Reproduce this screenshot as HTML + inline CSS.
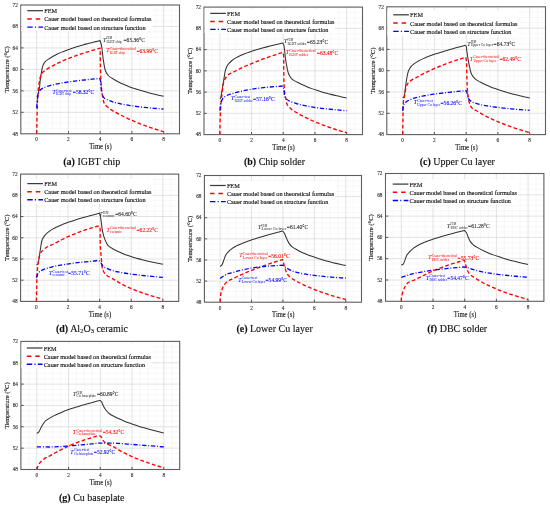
<!DOCTYPE html><html><head><meta charset="utf-8"><style>html,body{margin:0;padding:0;background:#fff;width:550px;height:506px;overflow:hidden}svg{display:block}text{font-family:"Liberation Serif", "Times New Roman", serif}</style></head><body>
<svg width="550" height="506" viewBox="0 0 550 506">
<rect width="550" height="506" fill="#fff"/>
<g>
<path d="M28.73 5V133.8M44.6 5V133.8M52.54 5V133.8M60.47 5V133.8M76.34 5V133.8M84.28 5V133.8M92.21 5V133.8M108.08 5V133.8M116.02 5V133.8M123.95 5V133.8M139.82 5V133.8M147.76 5V133.8M155.69 5V133.8M171.56 5V133.8M20.8 128.43H179.5M20.8 123.07H179.5M20.8 117.7H179.5M20.8 106.97H179.5M20.8 101.6H179.5M20.8 96.23H179.5M20.8 85.5H179.5M20.8 80.13H179.5M20.8 74.77H179.5M20.8 64.03H179.5M20.8 58.67H179.5M20.8 53.3H179.5M20.8 42.57H179.5M20.8 37.2H179.5M20.8 31.83H179.5M20.8 21.1H179.5M20.8 15.73H179.5M20.8 10.37H179.5" stroke="#f3f3f3" stroke-width="0.55" fill="none"/>
<path d="M36.67 5V133.8M68.41 5V133.8M100.15 5V133.8M131.89 5V133.8M163.63 5V133.8M20.8 112.33H179.5M20.8 90.87H179.5M20.8 69.4H179.5M20.8 47.93H179.5M20.8 26.47H179.5" stroke="#d8d8d8" stroke-width="0.75" fill="none"/>
<path d="M36.67 133.8v-2.6M68.41 133.8v-2.6M100.15 133.8v-2.6M131.89 133.8v-2.6M163.63 133.8v-2.6M20.8 112.33h2.8M20.8 90.87h2.8M20.8 69.4h2.8M20.8 47.93h2.8M20.8 26.47h2.8" stroke="#444" stroke-width="0.9" fill="none"/>
<text transform="translate(17.8 135.55) scale(0.85 1)" text-anchor="end" font-size="6.2" fill="#222" stroke="#222" stroke-width="0.1">48</text>
<text transform="translate(17.8 114.08) scale(0.85 1)" text-anchor="end" font-size="6.2" fill="#222" stroke="#222" stroke-width="0.1">52</text>
<text transform="translate(17.8 92.62) scale(0.85 1)" text-anchor="end" font-size="6.2" fill="#222" stroke="#222" stroke-width="0.1">56</text>
<text transform="translate(17.8 71.15) scale(0.85 1)" text-anchor="end" font-size="6.2" fill="#222" stroke="#222" stroke-width="0.1">60</text>
<text transform="translate(17.8 49.68) scale(0.85 1)" text-anchor="end" font-size="6.2" fill="#222" stroke="#222" stroke-width="0.1">64</text>
<text transform="translate(17.8 28.22) scale(0.85 1)" text-anchor="end" font-size="6.2" fill="#222" stroke="#222" stroke-width="0.1">68</text>
<text transform="translate(17.8 6.75) scale(0.85 1)" text-anchor="end" font-size="6.2" fill="#222" stroke="#222" stroke-width="0.1">72</text>
<text transform="translate(36.67 141.1) scale(0.85 1)" text-anchor="middle" font-size="6.2" fill="#222" stroke="#222" stroke-width="0.1">0</text>
<text transform="translate(68.41 141.1) scale(0.85 1)" text-anchor="middle" font-size="6.2" fill="#222" stroke="#222" stroke-width="0.1">2</text>
<text transform="translate(100.15 141.1) scale(0.85 1)" text-anchor="middle" font-size="6.2" fill="#222" stroke="#222" stroke-width="0.1">4</text>
<text transform="translate(131.89 141.1) scale(0.85 1)" text-anchor="middle" font-size="6.2" fill="#222" stroke="#222" stroke-width="0.1">6</text>
<text transform="translate(163.63 141.1) scale(0.85 1)" text-anchor="middle" font-size="6.2" fill="#222" stroke="#222" stroke-width="0.1">8</text>
<text transform="translate(100.45 149.05) scale(0.85 1)" text-anchor="middle" font-size="7.8" fill="#1a1a1a" stroke="#1a1a1a" stroke-width="0.14">Time (s)</text>
<text transform="translate(8.7 69.4) rotate(-90) scale(0.93 1)" text-anchor="middle" font-size="7.1" fill="#1a1a1a" stroke="#1a1a1a" stroke-width="0.16">Temperature (°C)</text>
<path d="M36.67 96.77 C36.83 96.59 36.97 96.54 37.15 96.23 C37.7 95.24 38.69 91.8 39.21 89.26 C39.81 86.32 39.9 82.67 40.32 79.6 C40.7 76.79 41.15 73.95 41.59 71.55 C41.95 69.57 42.14 67.78 42.7 66.18 C43.19 64.77 43.68 63.52 44.6 62.37 C45.66 61.06 47.42 59.95 48.88 58.91 C50.27 57.92 51.71 57.08 53.15 56.26 C54.56 55.46 55.99 54.74 57.42 54.05 C58.84 53.37 60.27 52.74 61.7 52.13 C63.11 51.53 64.54 50.97 65.97 50.43 C67.39 49.89 68.81 49.38 70.24 48.88 C71.66 48.39 73.09 47.92 74.51 47.46 C75.94 47.01 77.36 46.57 78.79 46.14 C80.21 45.72 81.63 45.31 83.06 44.91 C84.48 44.51 85.91 44.13 87.33 43.75 C88.75 43.38 90.18 43.02 91.6 42.66 C93.03 42.3 94.45 41.96 95.88 41.62 C97.3 41.28 98.73 40.96 100.15 40.63 C100.63 42.35 101.19 43.81 101.58 45.79 C102.09 48.38 102.31 51.97 102.69 54.91 C103.05 57.68 103.33 60.29 103.8 62.96 C104.28 65.65 104.62 68.75 105.55 71.01 C106.31 72.87 107.26 74.39 108.56 75.74 C109.91 77.14 111.87 78.15 113.57 79.2 C115.21 80.23 116.89 81.13 118.57 82 C120.23 82.84 121.9 83.61 123.58 84.35 C125.24 85.08 126.91 85.75 128.59 86.4 C130.25 87.04 131.92 87.64 133.59 88.21 C135.26 88.79 136.93 89.33 138.6 89.85 C140.26 90.37 141.93 90.87 143.6 91.35 C145.27 91.82 146.94 92.28 148.61 92.72 C150.28 93.16 151.95 93.59 153.62 94 C155.28 94.41 156.95 94.8 158.62 95.19 C160.29 95.57 161.96 95.93 163.63 96.31" stroke="#333" stroke-width="1.05" fill="none" stroke-linejoin="round"/>
<path d="M36.67 133.8 C36.88 124.68 37.04 113.94 37.3 106.43 C37.49 101.17 37.58 97.17 37.94 93.01 C38.25 89.38 38.8 85.49 39.21 82.82 C39.48 81.08 39.6 80.02 40 78.52 C40.46 76.82 40.83 74.66 41.91 73.16 C43.02 71.6 45.11 70.5 46.67 69.4 C48.06 68.41 49.4 67.6 50.78 66.79 C52.14 65.99 53.52 65.27 54.9 64.56 C56.26 63.86 57.63 63.2 59.01 62.57 C60.38 61.93 61.75 61.33 63.12 60.74 C64.49 60.15 65.86 59.59 67.24 59.04 C68.61 58.49 69.98 57.96 71.35 57.44 C72.72 56.92 74.09 56.41 75.47 55.92 C76.84 55.43 78.21 54.95 79.58 54.48 C80.95 54.01 82.32 53.55 83.69 53.1 C85.06 52.65 86.44 52.21 87.81 51.77 C89.18 51.34 90.55 50.92 91.92 50.5 C93.29 50.08 94.66 49.67 96.04 49.27 C97.41 48.86 98.78 48.47 100.15 48.08 C100.26 55.19 100.27 63.11 100.47 69.4 C100.62 74.39 100.86 78.91 101.1 82.82 C101.29 85.84 101.44 88.4 101.74 90.87 C101.99 92.99 102.25 94.71 102.69 96.77 C103.18 99.07 103.3 101.91 104.59 104.02 C105.97 106.25 108.9 108.18 110.94 109.66 C112.59 110.85 114.13 111.55 115.73 112.45 C117.32 113.35 118.92 114.22 120.52 115.06 C122.11 115.89 123.71 116.69 125.31 117.46 C126.9 118.22 128.5 118.96 130.1 119.68 C131.69 120.39 133.29 121.07 134.89 121.73 C136.48 122.39 138.08 123.03 139.68 123.65 C141.27 124.27 142.87 124.87 144.47 125.45 C146.06 126.03 147.66 126.6 149.26 127.15 C150.85 127.69 152.45 128.23 154.05 128.75 C155.64 129.27 157.24 129.77 158.84 130.27 C160.44 130.76 162.03 131.24 163.63 131.72" stroke="#ff0000" stroke-width="1.35" fill="none" stroke-dasharray="3.8 2.3" stroke-linejoin="round"/>
<path d="M36.67 108.04 C36.99 104.64 37.07 100.9 37.62 97.84 C38.09 95.28 38.46 92.54 39.53 90.87 C40.34 89.6 41.35 88.98 42.7 88.18 C44.54 87.11 47.81 86.13 49.84 85.52 C51.3 85.08 52.39 84.91 53.66 84.63 C54.94 84.35 56.21 84.09 57.48 83.85 C58.76 83.6 60.03 83.36 61.31 83.14 C62.58 82.92 63.85 82.7 65.13 82.5 C66.4 82.3 67.67 82.1 68.95 81.92 C70.22 81.73 71.49 81.55 72.77 81.38 C74.04 81.21 75.32 81.04 76.59 80.88 C77.86 80.72 79.14 80.57 80.41 80.42 C81.68 80.27 82.96 80.12 84.23 79.98 C85.5 79.84 86.78 79.7 88.05 79.57 C89.33 79.44 90.6 79.31 91.87 79.19 C93.15 79.06 94.42 78.94 95.69 78.82 C96.97 78.7 98.24 78.59 99.52 78.47 C99.83 79.21 100.23 79.77 100.47 80.67 C100.8 81.95 100.74 83.71 100.94 85.5 C101.19 87.73 101.32 90.85 101.9 93.01 C102.36 94.76 102.62 96.31 103.8 97.58 C105.3 99.18 108.77 100.27 110.94 101.15 C112.67 101.86 114.13 102.23 115.73 102.69 C117.32 103.13 118.92 103.5 120.52 103.85 C122.11 104.19 123.71 104.49 125.31 104.78 C126.91 105.07 128.5 105.32 130.1 105.57 C131.7 105.81 133.29 106.03 134.89 106.24 C136.49 106.45 138.08 106.65 139.68 106.84 C141.28 107.02 142.87 107.2 144.47 107.37 C146.07 107.53 147.66 107.69 149.26 107.84 C150.86 108 152.45 108.14 154.05 108.28 C155.65 108.42 157.24 108.55 158.84 108.68 C160.44 108.81 162.03 108.93 163.63 109.05" stroke="#0000ff" stroke-width="1.3" fill="none" stroke-dasharray="4.3 1.8 0.9 1.8" stroke-linejoin="round"/>
<rect x="20.8" y="5" width="158.7" height="128.8" fill="none" stroke="#5e5e5e" stroke-width="1.1"/>
<rect x="21.4" y="6.1" width="131" height="25" fill="#fff"/>
<path d="M27.3 10.7h15.7" stroke="#3a3a3a" stroke-width="1.25"/>
<path d="M27.3 18.9h13.5" stroke="#ff0000" stroke-width="1.5" stroke-dasharray="4.5 3.9"/>
<path d="M27.3 27.1h15.7" stroke="#0000ff" stroke-width="1.4" stroke-dasharray="5.4 2.2 1.1 2.3"/>
<text transform="translate(44.2 13.2) scale(0.885 1)" font-size="7.07" fill="#1a1a1a" stroke="#1a1a1a" stroke-width="0.18">FEM</text>
<text transform="translate(44.2 21.4) scale(0.885 1)" font-size="7.07" fill="#1a1a1a" stroke="#1a1a1a" stroke-width="0.18">Cauer model based on theoretical formulas</text>
<text transform="translate(44.2 29.6) scale(0.885 1)" font-size="7.07" fill="#1a1a1a" stroke="#1a1a1a" stroke-width="0.18">Cauer model based on structure function</text>
<text x="102.7" y="41.7" font-size="6.6" fill="#222" font-style="italic">T</text>
<text x="106.5" y="39.3" font-size="3.8" fill="#222" textLength="5.6" lengthAdjust="spacingAndGlyphs">FEM</text>
<text x="106.5" y="42.9" font-size="3.8" fill="#222" textLength="15" lengthAdjust="spacingAndGlyphs">IGBT chip</text>
<text transform="translate(123.5 42.1) scale(0.88 1)" font-size="6.3" fill="#222" stroke="#222" stroke-width="0.08">=65.36°C</text>
<text x="105.9" y="51.8" font-size="6.6" fill="#ff0000" font-style="italic">T</text>
<text x="109.7" y="49.7" font-size="3.8" fill="#ff0000" textLength="26.3" lengthAdjust="spacingAndGlyphs">Cauer-theoretical</text>
<text x="109.7" y="53.8" font-size="3.8" fill="#ff0000" textLength="15" lengthAdjust="spacingAndGlyphs">IGBT chip</text>
<text transform="translate(136.4 52.5) scale(0.88 1)" font-size="6.3" fill="#ff0000" stroke="#ff0000" stroke-width="0.08">=63.99°C</text>
<text x="52.3" y="94.2" font-size="6.6" fill="#0000ff" font-style="italic">T</text>
<text x="56.1" y="91.7" font-size="3.8" fill="#0000ff" textLength="15.4" lengthAdjust="spacingAndGlyphs">Cauer-test</text>
<text x="56.1" y="95.3" font-size="3.8" fill="#0000ff" textLength="15" lengthAdjust="spacingAndGlyphs">IGBT chip</text>
<text transform="translate(72.8 94.3) scale(0.88 1)" font-size="6.3" fill="#0000ff" stroke="#0000ff" stroke-width="0.08">=58.32°C</text>
<text x="91.75" y="164.9" text-anchor="middle" font-size="10" fill="#111" stroke="#111" stroke-width="0.12"><tspan font-weight="bold">(a)</tspan> IGBT chip</text>
</g>
<g>
<path d="M211.93 7.1V134.6M227.78 7.1V134.6M235.7 7.1V134.6M243.62 7.1V134.6M259.48 7.1V134.6M267.4 7.1V134.6M275.32 7.1V134.6M291.18 7.1V134.6M299.1 7.1V134.6M307.02 7.1V134.6M322.88 7.1V134.6M330.8 7.1V134.6M338.73 7.1V134.6M354.57 7.1V134.6M204 129.29H362.5M204 123.97H362.5M204 118.66H362.5M204 108.04H362.5M204 102.72H362.5M204 97.41H362.5M204 86.79H362.5M204 81.47H362.5M204 76.16H362.5M204 65.54H362.5M204 60.23H362.5M204 54.91H362.5M204 44.29H362.5M204 38.98H362.5M204 33.66H362.5M204 23.04H362.5M204 17.73H362.5M204 12.41H362.5" stroke="#f3f3f3" stroke-width="0.55" fill="none"/>
<path d="M219.85 7.1V134.6M251.55 7.1V134.6M283.25 7.1V134.6M314.95 7.1V134.6M346.65 7.1V134.6M204 113.35H362.5M204 92.1H362.5M204 70.85H362.5M204 49.6H362.5M204 28.35H362.5" stroke="#d8d8d8" stroke-width="0.75" fill="none"/>
<path d="M219.85 134.6v-2.6M251.55 134.6v-2.6M283.25 134.6v-2.6M314.95 134.6v-2.6M346.65 134.6v-2.6M204 113.35h2.8M204 92.1h2.8M204 70.85h2.8M204 49.6h2.8M204 28.35h2.8" stroke="#444" stroke-width="0.9" fill="none"/>
<text transform="translate(201 136.35) scale(0.85 1)" text-anchor="end" font-size="6.2" fill="#222" stroke="#222" stroke-width="0.1">48</text>
<text transform="translate(201 115.1) scale(0.85 1)" text-anchor="end" font-size="6.2" fill="#222" stroke="#222" stroke-width="0.1">52</text>
<text transform="translate(201 93.85) scale(0.85 1)" text-anchor="end" font-size="6.2" fill="#222" stroke="#222" stroke-width="0.1">56</text>
<text transform="translate(201 72.6) scale(0.85 1)" text-anchor="end" font-size="6.2" fill="#222" stroke="#222" stroke-width="0.1">60</text>
<text transform="translate(201 51.35) scale(0.85 1)" text-anchor="end" font-size="6.2" fill="#222" stroke="#222" stroke-width="0.1">64</text>
<text transform="translate(201 30.1) scale(0.85 1)" text-anchor="end" font-size="6.2" fill="#222" stroke="#222" stroke-width="0.1">68</text>
<text transform="translate(201 8.85) scale(0.85 1)" text-anchor="end" font-size="6.2" fill="#222" stroke="#222" stroke-width="0.1">72</text>
<text transform="translate(219.85 141.9) scale(0.85 1)" text-anchor="middle" font-size="6.2" fill="#222" stroke="#222" stroke-width="0.1">0</text>
<text transform="translate(251.55 141.9) scale(0.85 1)" text-anchor="middle" font-size="6.2" fill="#222" stroke="#222" stroke-width="0.1">2</text>
<text transform="translate(283.25 141.9) scale(0.85 1)" text-anchor="middle" font-size="6.2" fill="#222" stroke="#222" stroke-width="0.1">4</text>
<text transform="translate(314.95 141.9) scale(0.85 1)" text-anchor="middle" font-size="6.2" fill="#222" stroke="#222" stroke-width="0.1">6</text>
<text transform="translate(346.65 141.9) scale(0.85 1)" text-anchor="middle" font-size="6.2" fill="#222" stroke="#222" stroke-width="0.1">8</text>
<text transform="translate(283.55 149.85) scale(0.85 1)" text-anchor="middle" font-size="7.8" fill="#1a1a1a" stroke="#1a1a1a" stroke-width="0.14">Time (s)</text>
<text transform="translate(191.9 70.85) rotate(-90) scale(0.93 1)" text-anchor="middle" font-size="7.1" fill="#1a1a1a" stroke="#1a1a1a" stroke-width="0.16">Temperature (°C)</text>
<path d="M219.85 98.74 C220.01 98.65 220.16 98.7 220.33 98.48 C221.15 97.34 222.32 88.64 223.02 84.66 C223.55 81.65 223.87 79.2 224.29 76.69 C224.66 74.45 224.8 72.33 225.4 70.32 C225.98 68.38 226.68 66.46 227.78 64.82 C228.88 63.17 230.53 61.7 232.01 60.48 C233.36 59.36 234.8 58.51 236.24 57.67 C237.62 56.86 239.05 56.19 240.47 55.53 C241.87 54.88 243.28 54.31 244.7 53.75 C246.1 53.19 247.51 52.69 248.93 52.19 C250.33 51.7 251.75 51.23 253.16 50.78 C254.57 50.33 255.98 49.91 257.39 49.49 C258.8 49.07 260.21 48.67 261.62 48.27 C263.03 47.88 264.44 47.5 265.85 47.13 C267.26 46.76 268.67 46.4 270.08 46.04 C271.49 45.69 272.9 45.34 274.31 45 C275.72 44.66 277.13 44.32 278.54 43.99 C279.95 43.67 281.36 43.35 282.77 43.03 C283.09 43.62 283.47 44.05 283.73 44.82 C284.13 46.01 284.27 47.75 284.52 49.6 C284.86 52.13 285.05 55.63 285.47 58.63 C285.89 61.65 286.47 64.92 287.05 67.66 C287.55 69.98 287.79 72.1 288.64 74.04 C289.45 75.9 290.56 77.75 291.97 79.09 C293.34 80.41 295.26 81.15 296.94 82.07 C298.58 82.97 300.24 83.79 301.91 84.57 C303.56 85.33 305.22 86.04 306.88 86.72 C308.53 87.39 310.19 88.02 311.85 88.62 C313.5 89.22 315.16 89.78 316.82 90.33 C318.48 90.87 320.13 91.38 321.79 91.88 C323.45 92.37 325.11 92.84 326.77 93.3 C328.42 93.76 330.08 94.2 331.74 94.62 C333.39 95.05 335.05 95.46 336.71 95.85 C338.36 96.25 340.02 96.64 341.68 97.01 C343.33 97.38 344.99 97.73 346.65 98.1" stroke="#333" stroke-width="1.05" fill="none" stroke-linejoin="round"/>
<path d="M219.85 134.6 C220.01 127.87 220.07 120.3 220.33 114.41 C220.53 109.83 220.78 106.17 221.12 102.19 C221.44 98.39 221.87 94.44 222.31 91.04 C222.68 88.15 222.88 85.36 223.5 83.07 C223.99 81.24 224.54 79.72 225.4 78.29 C226.24 76.89 227.33 75.55 228.57 74.57 C229.78 73.6 231.35 73.12 232.75 72.4 C234.14 71.69 235.53 70.96 236.93 70.26 C238.32 69.56 239.72 68.87 241.11 68.2 C242.5 67.54 243.9 66.89 245.3 66.26 C246.69 65.63 248.08 65.02 249.48 64.42 C250.87 63.82 252.26 63.24 253.66 62.67 C255.05 62.1 256.45 61.55 257.84 61.01 C259.23 60.46 260.63 59.94 262.02 59.42 C263.42 58.9 264.81 58.39 266.21 57.9 C267.6 57.4 268.99 56.92 270.39 56.44 C271.78 55.96 273.17 55.5 274.57 55.04 C275.96 54.58 277.36 54.13 278.75 53.69 C280.14 53.25 281.54 52.82 282.93 52.39 C283.14 53.23 283.41 53.73 283.57 54.91 C283.91 57.59 283.65 63.57 283.73 68.19 C283.81 73.26 283.81 79.43 284.04 84.13 C284.23 87.88 284.4 91.55 284.84 94.22 C285.13 96.03 285.59 97.11 285.94 98.69 C286.34 100.45 286.18 102.57 287.05 104.32 C288.04 106.3 290.21 108.33 291.97 109.8 C293.53 111.1 295.27 111.86 296.94 112.84 C298.59 113.81 300.24 114.75 301.91 115.64 C303.56 116.53 305.22 117.37 306.88 118.19 C308.53 118.99 310.19 119.76 311.85 120.5 C313.5 121.24 315.16 121.95 316.82 122.63 C318.48 123.31 320.13 123.96 321.79 124.6 C323.45 125.23 325.11 125.84 326.77 126.43 C328.42 127.02 330.08 127.59 331.74 128.15 C333.39 128.7 335.05 129.24 336.71 129.77 C338.36 130.29 340.02 130.8 341.68 131.29 C343.33 131.79 344.99 132.26 346.65 132.74" stroke="#ff0000" stroke-width="1.35" fill="none" stroke-dasharray="3.8 2.3" stroke-linejoin="round"/>
<path d="M219.85 110.69 C220.27 107.86 220.43 104.46 221.12 102.19 C221.61 100.57 222.03 99.35 223.02 98.21 C224.15 96.91 226.18 95.78 227.78 95.02 C229.18 94.36 230.6 94.17 232.01 93.75 C233.42 93.32 234.82 92.88 236.24 92.48 C237.64 92.09 239.05 91.72 240.47 91.38 C241.87 91.05 243.29 90.74 244.7 90.45 C246.11 90.16 247.52 89.89 248.93 89.64 C250.34 89.4 251.75 89.17 253.16 88.96 C254.57 88.75 255.98 88.55 257.39 88.37 C258.8 88.18 260.21 88.01 261.62 87.85 C263.03 87.69 264.44 87.55 265.85 87.41 C267.26 87.27 268.67 87.14 270.08 87.02 C271.49 86.9 272.9 86.78 274.31 86.68 C275.72 86.57 277.13 86.47 278.54 86.38 C279.95 86.29 281.36 86.21 282.77 86.12 C283.04 86.7 283.36 87.17 283.57 87.85 C283.83 88.74 283.82 89.78 284.04 91.04 C284.37 92.9 284.39 96.21 285.47 97.94 C286.4 99.43 288 100.25 289.59 101.13 C291.38 102.12 293.85 102.76 295.77 103.38 C297.41 103.91 298.85 104.29 300.4 104.68 C301.93 105.07 303.48 105.4 305.02 105.72 C306.56 106.03 308.1 106.31 309.65 106.58 C311.19 106.84 312.73 107.08 314.27 107.32 C315.81 107.55 317.36 107.76 318.9 107.96 C320.44 108.16 321.98 108.35 323.52 108.53 C325.06 108.72 326.61 108.89 328.15 109.05 C329.69 109.22 331.23 109.37 332.77 109.52 C334.32 109.68 335.86 109.82 337.4 109.96 C338.94 110.1 340.48 110.23 342.02 110.36 C343.57 110.49 345.11 110.61 346.65 110.73" stroke="#0000ff" stroke-width="1.3" fill="none" stroke-dasharray="4.3 1.8 0.9 1.8" stroke-linejoin="round"/>
<rect x="204" y="7.1" width="158.5" height="127.5" fill="none" stroke="#5e5e5e" stroke-width="1.1"/>
<rect x="204.6" y="8.8" width="130.7" height="24.6" fill="#fff"/>
<path d="M210.2 13.4h15.7" stroke="#3a3a3a" stroke-width="1.25"/>
<path d="M210.2 21.4h13.5" stroke="#ff0000" stroke-width="1.5" stroke-dasharray="4.5 3.9"/>
<path d="M210.2 29.4h15.7" stroke="#0000ff" stroke-width="1.4" stroke-dasharray="5.4 2.2 1.1 2.3"/>
<text transform="translate(227.1 15.9) scale(0.885 1)" font-size="7.07" fill="#1a1a1a" stroke="#1a1a1a" stroke-width="0.18">FEM</text>
<text transform="translate(227.1 23.9) scale(0.885 1)" font-size="7.07" fill="#1a1a1a" stroke="#1a1a1a" stroke-width="0.18">Cauer model based on theoretical formulas</text>
<text transform="translate(227.1 31.9) scale(0.885 1)" font-size="7.07" fill="#1a1a1a" stroke="#1a1a1a" stroke-width="0.18">Cauer model based on structure function</text>
<text x="283.8" y="43.4" font-size="6.6" fill="#222" font-style="italic">T</text>
<text x="287.6" y="40.8" font-size="3.8" fill="#222" textLength="5.6" lengthAdjust="spacingAndGlyphs">FEM</text>
<text x="287.6" y="44.7" font-size="3.8" fill="#222" textLength="18.9" lengthAdjust="spacingAndGlyphs">IGBT solder</text>
<text transform="translate(306.8 43.8) scale(0.88 1)" font-size="6.3" fill="#222" stroke="#222" stroke-width="0.08">=65.23°C</text>
<text x="285.4" y="54.3" font-size="6.6" fill="#ff0000" font-style="italic">T</text>
<text x="289.2" y="51.7" font-size="3.8" fill="#ff0000" textLength="26.4" lengthAdjust="spacingAndGlyphs">Cauer-theoretical</text>
<text x="289.2" y="56.1" font-size="3.8" fill="#ff0000" textLength="19" lengthAdjust="spacingAndGlyphs">IGBT solder</text>
<text transform="translate(316.8 55.3) scale(0.88 1)" font-size="6.3" fill="#ff0000" stroke="#ff0000" stroke-width="0.08">=63.48°C</text>
<text x="230.7" y="100.3" font-size="6.6" fill="#0000ff" font-style="italic">T</text>
<text x="234.5" y="97.8" font-size="3.8" fill="#0000ff" textLength="15.4" lengthAdjust="spacingAndGlyphs">Cauer-test</text>
<text x="234.5" y="101.6" font-size="3.8" fill="#0000ff" textLength="18.3" lengthAdjust="spacingAndGlyphs">IGBT solder</text>
<text transform="translate(253.1 100.7) scale(0.88 1)" font-size="6.3" fill="#0000ff" stroke="#0000ff" stroke-width="0.08">=57.16°C</text>
<text x="274.5" y="165.4" text-anchor="middle" font-size="10" fill="#111" stroke="#111" stroke-width="0.12"><tspan font-weight="bold">(b)</tspan> Chip solder</text>
</g>
<g>
<path d="M394.74 6.8V134.6M410.61 6.8V134.6M418.54 6.8V134.6M426.48 6.8V134.6M442.35 6.8V134.6M450.28 6.8V134.6M458.22 6.8V134.6M474.09 6.8V134.6M482.02 6.8V134.6M489.96 6.8V134.6M505.82 6.8V134.6M513.76 6.8V134.6M521.69 6.8V134.6M537.57 6.8V134.6M386.8 129.28H545.5M386.8 123.95H545.5M386.8 118.62H545.5M386.8 107.97H545.5M386.8 102.65H545.5M386.8 97.33H545.5M386.8 86.67H545.5M386.8 81.35H545.5M386.8 76.02H545.5M386.8 65.38H545.5M386.8 60.05H545.5M386.8 54.72H545.5M386.8 44.07H545.5M386.8 38.75H545.5M386.8 33.42H545.5M386.8 22.77H545.5M386.8 17.45H545.5M386.8 12.12H545.5" stroke="#f3f3f3" stroke-width="0.55" fill="none"/>
<path d="M402.67 6.8V134.6M434.41 6.8V134.6M466.15 6.8V134.6M497.89 6.8V134.6M529.63 6.8V134.6M386.8 113.3H545.5M386.8 92H545.5M386.8 70.7H545.5M386.8 49.4H545.5M386.8 28.1H545.5" stroke="#d8d8d8" stroke-width="0.75" fill="none"/>
<path d="M402.67 134.6v-2.6M434.41 134.6v-2.6M466.15 134.6v-2.6M497.89 134.6v-2.6M529.63 134.6v-2.6M386.8 113.3h2.8M386.8 92h2.8M386.8 70.7h2.8M386.8 49.4h2.8M386.8 28.1h2.8" stroke="#444" stroke-width="0.9" fill="none"/>
<text transform="translate(383.8 136.35) scale(0.85 1)" text-anchor="end" font-size="6.2" fill="#222" stroke="#222" stroke-width="0.1">48</text>
<text transform="translate(383.8 115.05) scale(0.85 1)" text-anchor="end" font-size="6.2" fill="#222" stroke="#222" stroke-width="0.1">52</text>
<text transform="translate(383.8 93.75) scale(0.85 1)" text-anchor="end" font-size="6.2" fill="#222" stroke="#222" stroke-width="0.1">56</text>
<text transform="translate(383.8 72.45) scale(0.85 1)" text-anchor="end" font-size="6.2" fill="#222" stroke="#222" stroke-width="0.1">60</text>
<text transform="translate(383.8 51.15) scale(0.85 1)" text-anchor="end" font-size="6.2" fill="#222" stroke="#222" stroke-width="0.1">64</text>
<text transform="translate(383.8 29.85) scale(0.85 1)" text-anchor="end" font-size="6.2" fill="#222" stroke="#222" stroke-width="0.1">68</text>
<text transform="translate(383.8 8.55) scale(0.85 1)" text-anchor="end" font-size="6.2" fill="#222" stroke="#222" stroke-width="0.1">72</text>
<text transform="translate(402.67 141.9) scale(0.85 1)" text-anchor="middle" font-size="6.2" fill="#222" stroke="#222" stroke-width="0.1">0</text>
<text transform="translate(434.41 141.9) scale(0.85 1)" text-anchor="middle" font-size="6.2" fill="#222" stroke="#222" stroke-width="0.1">2</text>
<text transform="translate(466.15 141.9) scale(0.85 1)" text-anchor="middle" font-size="6.2" fill="#222" stroke="#222" stroke-width="0.1">4</text>
<text transform="translate(497.89 141.9) scale(0.85 1)" text-anchor="middle" font-size="6.2" fill="#222" stroke="#222" stroke-width="0.1">6</text>
<text transform="translate(529.63 141.9) scale(0.85 1)" text-anchor="middle" font-size="6.2" fill="#222" stroke="#222" stroke-width="0.1">8</text>
<text transform="translate(466.45 149.85) scale(0.85 1)" text-anchor="middle" font-size="7.8" fill="#1a1a1a" stroke="#1a1a1a" stroke-width="0.14">Time (s)</text>
<text transform="translate(374.7 70.7) rotate(-90) scale(0.93 1)" text-anchor="middle" font-size="7.1" fill="#1a1a1a" stroke="#1a1a1a" stroke-width="0.16">Temperature (°C)</text>
<path d="M402.67 97.86 C403.09 97.5 403.58 97.42 403.94 96.79 C404.78 95.31 404.95 90.5 405.37 87.74 C405.72 85.43 406 83.43 406.32 81.35 C406.63 79.35 406.89 77.28 407.27 75.49 C407.6 73.95 407.83 72.62 408.38 71.23 C408.97 69.77 409.72 68.24 410.76 66.94 C411.88 65.54 413.51 64.28 414.95 63.2 C416.3 62.2 417.72 61.43 419.14 60.65 C420.52 59.9 421.92 59.25 423.33 58.61 C424.71 57.99 426.11 57.41 427.51 56.85 C428.9 56.3 430.3 55.78 431.7 55.27 C433.09 54.76 434.49 54.28 435.89 53.81 C437.28 53.34 438.68 52.88 440.07 52.44 C441.47 51.99 442.86 51.56 444.26 51.14 C445.66 50.72 447.05 50.3 448.45 49.9 C449.84 49.49 451.24 49.1 452.64 48.71 C454.03 48.32 455.43 47.93 456.82 47.56 C458.22 47.18 459.61 46.81 461.01 46.44 C462.41 46.08 463.8 45.72 465.2 45.36 C465.52 45.64 465.9 45.74 466.15 46.21 C466.62 47.08 466.52 48.99 466.78 50.78 C467.16 53.34 467.69 57.1 468.21 60.05 C468.7 62.78 469.21 65.42 469.8 67.88 C470.33 70.11 470.6 72.32 471.55 74.21 C472.47 76.05 473.86 77.77 475.35 79.09 C476.79 80.36 478.63 81.12 480.29 82.03 C481.92 82.93 483.57 83.73 485.22 84.51 C486.86 85.27 488.51 85.97 490.16 86.65 C491.79 87.32 493.44 87.94 495.09 88.54 C496.73 89.14 498.38 89.7 500.03 90.25 C501.67 90.79 503.31 91.3 504.96 91.8 C506.6 92.29 508.25 92.76 509.89 93.22 C511.54 93.68 513.18 94.12 514.83 94.54 C516.47 94.97 518.12 95.38 519.76 95.78 C521.41 96.18 523.05 96.56 524.7 96.93 C526.34 97.31 527.99 97.66 529.63 98.03" stroke="#333" stroke-width="1.05" fill="none" stroke-linejoin="round"/>
<path d="M402.67 134.6 C402.78 128.39 402.87 121.62 402.99 115.96 C403.09 111.23 402.94 106.61 403.3 102.92 C403.58 100.15 404.12 98.22 404.57 95.73 C405.07 93.01 405.42 89.48 406.16 87.21 C406.69 85.59 407.25 84.34 408.07 83.21 C408.81 82.17 409.7 81.37 410.76 80.6 C411.97 79.72 413.59 79.1 415 78.33 C416.42 77.55 417.82 76.73 419.24 75.96 C420.64 75.19 422.06 74.43 423.47 73.7 C424.88 72.97 426.29 72.26 427.71 71.58 C429.12 70.9 430.53 70.24 431.94 69.6 C433.35 68.96 434.76 68.34 436.18 67.74 C437.59 67.14 439 66.56 440.42 66 C441.83 65.43 443.24 64.89 444.65 64.35 C446.06 63.82 447.47 63.31 448.89 62.8 C450.3 62.29 451.71 61.8 453.12 61.32 C454.53 60.84 455.95 60.38 457.36 59.92 C458.77 59.46 460.18 59.01 461.6 58.58 C463.01 58.14 464.42 57.72 465.83 57.29 C466.04 58.57 466.31 59.47 466.47 61.12 C466.75 64.04 466.68 69.42 466.78 73.36 C466.89 77.04 466.95 80.75 467.1 84.01 C467.23 86.79 467.28 88.98 467.58 91.73 C467.92 94.95 468.34 99.26 469.17 102.12 C469.79 104.27 470.25 106.03 471.55 107.55 C472.99 109.23 475.8 110.32 477.74 111.51 C479.4 112.53 480.87 113.38 482.45 114.26 C484.02 115.14 485.59 115.97 487.17 116.78 C488.74 117.58 490.31 118.35 491.89 119.09 C493.45 119.82 495.03 120.53 496.61 121.21 C498.17 121.89 499.75 122.54 501.32 123.17 C502.89 123.81 504.47 124.41 506.04 125 C507.61 125.59 509.18 126.16 510.76 126.72 C512.33 127.27 513.9 127.81 515.48 128.33 C517.05 128.85 518.62 129.36 520.19 129.85 C521.77 130.35 523.34 130.83 524.91 131.3 C526.48 131.77 528.06 132.21 529.63 132.67" stroke="#ff0000" stroke-width="1.35" fill="none" stroke-dasharray="3.8 2.3" stroke-linejoin="round"/>
<path d="M402.67 110.8 C403.04 108.7 402.93 106.16 403.78 104.51 C404.5 103.13 405.77 102.17 406.95 101.32 C408.1 100.5 409.44 100.02 410.76 99.46 C412.13 98.89 413.59 98.4 415.01 97.96 C416.42 97.53 417.84 97.18 419.26 96.84 C420.67 96.5 422.09 96.21 423.51 95.93 C424.92 95.65 426.34 95.39 427.76 95.15 C429.17 94.91 430.59 94.68 432.01 94.47 C433.42 94.25 434.84 94.05 436.25 93.85 C437.67 93.66 439.09 93.47 440.5 93.29 C441.92 93.11 443.33 92.94 444.75 92.78 C446.17 92.61 447.58 92.46 449 92.3 C450.41 92.15 451.83 92 453.25 91.85 C454.66 91.71 456.08 91.57 457.49 91.43 C458.91 91.3 460.33 91.16 461.74 91.04 C463.16 90.91 464.58 90.78 465.99 90.66 C466.26 91.1 466.54 91.42 466.78 92 C467.16 92.91 467.46 94.59 467.74 95.73 C467.97 96.69 467.89 97.53 468.37 98.39 C468.99 99.5 470.2 100.71 471.55 101.58 C473.18 102.65 475.79 103.34 477.74 103.93 C479.4 104.43 480.88 104.67 482.45 105 C484.02 105.32 485.6 105.6 487.17 105.87 C488.74 106.13 490.31 106.37 491.89 106.6 C493.46 106.83 495.03 107.04 496.61 107.24 C498.18 107.44 499.75 107.63 501.32 107.81 C502.9 107.99 504.47 108.16 506.04 108.32 C507.61 108.49 509.19 108.64 510.76 108.79 C512.33 108.94 513.9 109.08 515.48 109.22 C517.05 109.36 518.62 109.49 520.19 109.62 C521.77 109.75 523.34 109.87 524.91 109.99 C526.48 110.11 528.06 110.22 529.63 110.34" stroke="#0000ff" stroke-width="1.3" fill="none" stroke-dasharray="4.3 1.8 0.9 1.8" stroke-linejoin="round"/>
<rect x="386.8" y="6.8" width="158.7" height="127.8" fill="none" stroke="#5e5e5e" stroke-width="1.1"/>
<rect x="387.4" y="10.2" width="130.9" height="25.2" fill="#fff"/>
<path d="M393.2 14.8h15.7" stroke="#3a3a3a" stroke-width="1.25"/>
<path d="M393.2 23.1h13.5" stroke="#ff0000" stroke-width="1.5" stroke-dasharray="4.5 3.9"/>
<path d="M393.2 31.4h15.7" stroke="#0000ff" stroke-width="1.4" stroke-dasharray="5.4 2.2 1.1 2.3"/>
<text transform="translate(410.1 17.3) scale(0.885 1)" font-size="7.07" fill="#1a1a1a" stroke="#1a1a1a" stroke-width="0.18">FEM</text>
<text transform="translate(410.1 25.6) scale(0.885 1)" font-size="7.07" fill="#1a1a1a" stroke="#1a1a1a" stroke-width="0.18">Cauer model based on theoretical formulas</text>
<text transform="translate(410.1 33.9) scale(0.885 1)" font-size="7.07" fill="#1a1a1a" stroke="#1a1a1a" stroke-width="0.18">Cauer model based on structure function</text>
<text x="466.9" y="45.6" font-size="6.6" fill="#222" font-style="italic">T</text>
<text x="470.7" y="42.8" font-size="3.8" fill="#222" textLength="5.6" lengthAdjust="spacingAndGlyphs">FEM</text>
<text x="470.7" y="46.3" font-size="3.8" fill="#222" textLength="22.6" lengthAdjust="spacingAndGlyphs">Upper Cu layer</text>
<text transform="translate(493.6 45.8) scale(0.88 1)" font-size="6.3" fill="#222" stroke="#222" stroke-width="0.08">=64.73°C</text>
<text x="469.6" y="60.6" font-size="6.6" fill="#ff0000" font-style="italic">T</text>
<text x="473.4" y="58.2" font-size="3.8" fill="#ff0000" textLength="25.6" lengthAdjust="spacingAndGlyphs">Cauer-theoretical</text>
<text x="473.4" y="61.8" font-size="3.8" fill="#ff0000" textLength="22.9" lengthAdjust="spacingAndGlyphs">Upper Cu layer</text>
<text transform="translate(499.4 61) scale(0.88 1)" font-size="6.3" fill="#ff0000" stroke="#ff0000" stroke-width="0.08">=62.49°C</text>
<text x="413.5" y="104.2" font-size="6.6" fill="#0000ff" font-style="italic">T</text>
<text x="417.3" y="102" font-size="3.8" fill="#0000ff" textLength="15.4" lengthAdjust="spacingAndGlyphs">Cauer-test</text>
<text x="417.3" y="106" font-size="3.8" fill="#0000ff" textLength="22.9" lengthAdjust="spacingAndGlyphs">Upper Cu layer</text>
<text transform="translate(440.5 104.6) scale(0.88 1)" font-size="6.3" fill="#0000ff" stroke="#0000ff" stroke-width="0.08">=56.26°C</text>
<text x="457.3" y="165.1" text-anchor="middle" font-size="10" fill="#111" stroke="#111" stroke-width="0.12"><tspan font-weight="bold">(c)</tspan> Upper Cu layer</text>
</g>
<g>
<path d="M28.51 174.1V301.4M44.31 174.1V301.4M52.22 174.1V301.4M60.12 174.1V301.4M75.94 174.1V301.4M83.84 174.1V301.4M91.75 174.1V301.4M107.56 174.1V301.4M115.46 174.1V301.4M123.37 174.1V301.4M139.17 174.1V301.4M147.08 174.1V301.4M154.98 174.1V301.4M170.79 174.1V301.4M20.6 296.1H178.7M20.6 290.79H178.7M20.6 285.49H178.7M20.6 274.88H178.7M20.6 269.57H178.7M20.6 264.27H178.7M20.6 253.66H178.7M20.6 248.36H178.7M20.6 243.05H178.7M20.6 232.45H178.7M20.6 227.14H178.7M20.6 221.84H178.7M20.6 211.23H178.7M20.6 205.92H178.7M20.6 200.62H178.7M20.6 190.01H178.7M20.6 184.71H178.7M20.6 179.4H178.7" stroke="#f3f3f3" stroke-width="0.55" fill="none"/>
<path d="M36.41 174.1V301.4M68.03 174.1V301.4M99.65 174.1V301.4M131.27 174.1V301.4M162.89 174.1V301.4M20.6 280.18H178.7M20.6 258.97H178.7M20.6 237.75H178.7M20.6 216.53H178.7M20.6 195.32H178.7" stroke="#d8d8d8" stroke-width="0.75" fill="none"/>
<path d="M36.41 301.4v-2.6M68.03 301.4v-2.6M99.65 301.4v-2.6M131.27 301.4v-2.6M162.89 301.4v-2.6M20.6 280.18h2.8M20.6 258.97h2.8M20.6 237.75h2.8M20.6 216.53h2.8M20.6 195.32h2.8" stroke="#444" stroke-width="0.9" fill="none"/>
<text transform="translate(17.6 303.15) scale(0.85 1)" text-anchor="end" font-size="6.2" fill="#222" stroke="#222" stroke-width="0.1">48</text>
<text transform="translate(17.6 281.93) scale(0.85 1)" text-anchor="end" font-size="6.2" fill="#222" stroke="#222" stroke-width="0.1">52</text>
<text transform="translate(17.6 260.72) scale(0.85 1)" text-anchor="end" font-size="6.2" fill="#222" stroke="#222" stroke-width="0.1">56</text>
<text transform="translate(17.6 239.5) scale(0.85 1)" text-anchor="end" font-size="6.2" fill="#222" stroke="#222" stroke-width="0.1">60</text>
<text transform="translate(17.6 218.28) scale(0.85 1)" text-anchor="end" font-size="6.2" fill="#222" stroke="#222" stroke-width="0.1">64</text>
<text transform="translate(17.6 197.07) scale(0.85 1)" text-anchor="end" font-size="6.2" fill="#222" stroke="#222" stroke-width="0.1">68</text>
<text transform="translate(17.6 175.85) scale(0.85 1)" text-anchor="end" font-size="6.2" fill="#222" stroke="#222" stroke-width="0.1">72</text>
<text transform="translate(36.41 308.7) scale(0.85 1)" text-anchor="middle" font-size="6.2" fill="#222" stroke="#222" stroke-width="0.1">0</text>
<text transform="translate(68.03 308.7) scale(0.85 1)" text-anchor="middle" font-size="6.2" fill="#222" stroke="#222" stroke-width="0.1">2</text>
<text transform="translate(99.65 308.7) scale(0.85 1)" text-anchor="middle" font-size="6.2" fill="#222" stroke="#222" stroke-width="0.1">4</text>
<text transform="translate(131.27 308.7) scale(0.85 1)" text-anchor="middle" font-size="6.2" fill="#222" stroke="#222" stroke-width="0.1">6</text>
<text transform="translate(162.89 308.7) scale(0.85 1)" text-anchor="middle" font-size="6.2" fill="#222" stroke="#222" stroke-width="0.1">8</text>
<text transform="translate(99.95 316.65) scale(0.85 1)" text-anchor="middle" font-size="7.8" fill="#1a1a1a" stroke="#1a1a1a" stroke-width="0.14">Time (s)</text>
<text transform="translate(8.5 237.75) rotate(-90) scale(0.93 1)" text-anchor="middle" font-size="7.1" fill="#1a1a1a" stroke="#1a1a1a" stroke-width="0.16">Temperature (°C)</text>
<path d="M36.41 265.01 C36.88 264.77 37.45 264.79 37.83 264.27 C38.61 263.23 38.77 259.82 39.1 257.91 C39.37 256.35 39.5 255.22 39.73 253.66 C40.01 251.76 40.29 249.52 40.68 247.3 C41.11 244.82 41.44 241.59 42.26 239.5 C42.88 237.92 43.63 236.87 44.63 235.63 C45.76 234.22 47.37 232.76 48.83 231.61 C50.18 230.54 51.6 229.7 53.02 228.88 C54.4 228.08 55.81 227.4 57.22 226.73 C58.61 226.07 60.01 225.48 61.41 224.9 C62.81 224.33 64.21 223.79 65.61 223.27 C67 222.75 68.4 222.26 69.81 221.78 C71.2 221.3 72.6 220.84 74 220.39 C75.4 219.94 76.8 219.51 78.2 219.09 C79.59 218.66 80.99 218.25 82.39 217.84 C83.79 217.44 85.19 217.04 86.59 216.66 C87.99 216.27 89.38 215.89 90.78 215.51 C92.18 215.14 93.58 214.77 94.98 214.41 C96.38 214.05 97.78 213.7 99.18 213.35 C99.49 213.88 99.85 214.19 100.12 214.94 C100.65 216.4 100.85 219.32 101.23 221.84 C101.69 224.88 101.97 228.78 102.65 231.92 C103.27 234.75 104.03 237.48 105.03 239.87 C105.91 242 106.78 244.11 108.19 245.64 C109.53 247.1 111.48 247.95 113.16 248.94 C114.79 249.9 116.46 250.74 118.13 251.53 C119.78 252.32 121.44 253.02 123.11 253.69 C124.76 254.35 126.42 254.96 128.08 255.54 C129.73 256.12 131.39 256.65 133.05 257.17 C134.71 257.68 136.36 258.17 138.03 258.63 C139.68 259.1 141.34 259.53 143 259.96 C144.65 260.38 146.31 260.78 147.97 261.17 C149.63 261.56 151.29 261.93 152.94 262.3 C154.6 262.66 156.26 263 157.92 263.34 C159.57 263.68 161.23 263.99 162.89 264.32" stroke="#333" stroke-width="1.05" fill="none" stroke-linejoin="round"/>
<path d="M36.41 301.4 C36.52 296.1 36.61 290.38 36.73 285.49 C36.82 281.3 36.78 277.72 37.04 273.82 C37.31 269.86 37.74 265.34 38.31 261.88 C38.75 259.18 39.16 256.62 39.89 254.72 C40.42 253.35 40.83 252.51 41.79 251.38 C43.14 249.79 45.93 247.64 47.79 246.53 C49.18 245.7 50.42 245.49 51.72 244.89 C53.04 244.27 54.34 243.54 55.65 242.86 C56.96 242.18 58.27 241.48 59.58 240.81 C60.88 240.13 62.19 239.47 63.51 238.83 C64.81 238.19 66.12 237.57 67.43 236.96 C68.74 236.36 70.05 235.78 71.36 235.22 C72.67 234.66 73.98 234.12 75.29 233.6 C76.6 233.08 77.91 232.58 79.22 232.09 C80.53 231.61 81.83 231.14 83.15 230.68 C84.45 230.23 85.76 229.79 87.07 229.37 C88.38 228.94 89.69 228.53 91 228.14 C92.31 227.74 93.62 227.36 94.93 226.98 C96.24 226.61 97.55 226.26 98.86 225.9 C99.23 226.56 99.71 226.92 99.97 227.88 C100.5 229.88 100.05 234.4 100.12 237.75 C100.2 241.22 100.24 244.97 100.44 248.36 C100.62 251.49 100.88 254.13 101.23 257.38 C101.64 261.21 101.7 266.81 102.81 269.89 C103.55 271.95 104.35 273.19 105.82 274.61 C107.69 276.44 111.46 277.98 113.72 279.35 C115.43 280.38 116.69 281.23 118.19 282.1 C119.67 282.95 121.16 283.75 122.66 284.53 C124.14 285.29 125.63 286.01 127.13 286.71 C128.61 287.4 130.11 288.06 131.6 288.7 C133.09 289.33 134.58 289.93 136.07 290.52 C137.56 291.1 139.05 291.67 140.54 292.21 C142.03 292.75 143.52 293.28 145.01 293.79 C146.5 294.29 147.99 294.79 149.48 295.26 C150.97 295.74 152.46 296.2 153.95 296.66 C155.44 297.11 156.93 297.55 158.42 297.97 C159.91 298.4 161.4 298.81 162.89 299.23" stroke="#ff0000" stroke-width="1.35" fill="none" stroke-dasharray="3.8 2.3" stroke-linejoin="round"/>
<path d="M36.41 277.69 C37.04 276.1 37.46 274.1 38.31 272.92 C38.97 272 39.79 271.47 40.68 270.9 C41.62 270.3 42.7 269.89 43.84 269.42 C45.13 268.89 46.64 268.36 48.05 267.92 C49.44 267.49 50.85 267.14 52.26 266.79 C53.66 266.45 55.06 266.16 56.46 265.88 C57.86 265.59 59.27 265.34 60.67 265.09 C62.07 264.85 63.48 264.62 64.88 264.4 C66.28 264.19 67.68 263.98 69.09 263.79 C70.49 263.59 71.89 263.41 73.3 263.23 C74.7 263.05 76.1 262.88 77.5 262.71 C78.91 262.55 80.31 262.39 81.71 262.24 C83.11 262.08 84.52 261.94 85.92 261.79 C87.32 261.65 88.72 261.51 90.13 261.37 C91.53 261.24 92.93 261.11 94.34 260.98 C95.74 260.85 97.43 260.23 98.54 260.61 C99.48 260.92 100.1 261.81 100.76 262.63 C101.49 263.54 102.02 265.14 102.65 265.92 C103.08 266.43 103.43 266.71 103.92 267.03 C104.47 267.39 104.96 267.56 105.82 267.93 C107.54 268.67 111.44 270.31 113.72 271 C115.4 271.5 116.7 271.67 118.19 271.97 C119.68 272.27 121.17 272.54 122.66 272.79 C124.15 273.05 125.64 273.29 127.13 273.51 C128.62 273.74 130.11 273.95 131.6 274.15 C133.09 274.35 134.58 274.54 136.07 274.73 C137.56 274.91 139.05 275.08 140.54 275.25 C142.03 275.42 143.52 275.58 145.01 275.74 C146.5 275.89 147.99 276.04 149.48 276.19 C150.97 276.33 152.46 276.47 153.95 276.61 C155.44 276.74 156.93 276.87 158.42 277 C159.91 277.13 161.4 277.25 162.89 277.37" stroke="#0000ff" stroke-width="1.3" fill="none" stroke-dasharray="4.3 1.8 0.9 1.8" stroke-linejoin="round"/>
<rect x="20.6" y="174.1" width="158.1" height="127.3" fill="none" stroke="#5e5e5e" stroke-width="1.1"/>
<rect x="21.2" y="179" width="131.2" height="24.8" fill="#fff"/>
<path d="M27.3 183.6h15.7" stroke="#3a3a3a" stroke-width="1.25"/>
<path d="M27.3 191.7h13.5" stroke="#ff0000" stroke-width="1.5" stroke-dasharray="4.5 3.9"/>
<path d="M27.3 199.8h15.7" stroke="#0000ff" stroke-width="1.4" stroke-dasharray="5.4 2.2 1.1 2.3"/>
<text transform="translate(44.2 186.1) scale(0.885 1)" font-size="7.07" fill="#1a1a1a" stroke="#1a1a1a" stroke-width="0.18">FEM</text>
<text transform="translate(44.2 194.2) scale(0.885 1)" font-size="7.07" fill="#1a1a1a" stroke="#1a1a1a" stroke-width="0.18">Cauer model based on theoretical formulas</text>
<text transform="translate(44.2 202.3) scale(0.885 1)" font-size="7.07" fill="#1a1a1a" stroke="#1a1a1a" stroke-width="0.18">Cauer model based on structure function</text>
<text x="99" y="215.9" font-size="6.6" fill="#222" font-style="italic">T</text>
<text x="102.8" y="213.7" font-size="3.8" fill="#222" textLength="5.6" lengthAdjust="spacingAndGlyphs">FEM</text>
<text x="102.8" y="217" font-size="3.8" fill="#222" textLength="12" lengthAdjust="spacingAndGlyphs">ceramic</text>
<text transform="translate(115.2 216) scale(0.88 1)" font-size="6.3" fill="#222" stroke="#222" stroke-width="0.08">=64.60°C</text>
<text x="106.2" y="231.5" font-size="6.6" fill="#ff0000" font-style="italic">T</text>
<text x="110" y="228.9" font-size="3.8" fill="#ff0000" textLength="26.1" lengthAdjust="spacingAndGlyphs">Cauer-theoretical</text>
<text x="110" y="232.8" font-size="3.8" fill="#ff0000" textLength="12" lengthAdjust="spacingAndGlyphs">ceramic</text>
<text transform="translate(136.5 231.7) scale(0.88 1)" font-size="6.3" fill="#ff0000" stroke="#ff0000" stroke-width="0.08">=62.22°C</text>
<text x="48.8" y="274.6" font-size="6.6" fill="#0000ff" font-style="italic">T</text>
<text x="52.6" y="272.6" font-size="3.8" fill="#0000ff" textLength="15.1" lengthAdjust="spacingAndGlyphs">Cauer-test</text>
<text x="52.6" y="276.2" font-size="3.8" fill="#0000ff" textLength="12" lengthAdjust="spacingAndGlyphs">ceramic</text>
<text transform="translate(68.1 275) scale(0.88 1)" font-size="6.3" fill="#0000ff" stroke="#0000ff" stroke-width="0.08">=55.71°C</text>
<text x="92" y="332.3" text-anchor="middle" font-size="10" fill="#111" stroke="#111" stroke-width="0.12"><tspan font-weight="bold">(d)</tspan> Al<tspan font-size="65%" dy="0.8">2</tspan><tspan dy="-0.8">O</tspan><tspan font-size="65%" dy="0.8">3</tspan><tspan dy="-0.8"> ceramic</tspan></text>
</g>
<g>
<path d="M212.25 175.5V302.2M227.97 175.5V302.2M235.82 175.5V302.2M243.68 175.5V302.2M259.38 175.5V302.2M267.24 175.5V302.2M275.1 175.5V302.2M290.81 175.5V302.2M298.66 175.5V302.2M306.51 175.5V302.2M322.23 175.5V302.2M330.08 175.5V302.2M337.94 175.5V302.2M353.64 175.5V302.2M204.4 296.92H361.5M204.4 291.64H361.5M204.4 286.36H361.5M204.4 275.8H361.5M204.4 270.52H361.5M204.4 265.25H361.5M204.4 254.69H361.5M204.4 249.41H361.5M204.4 244.13H361.5M204.4 233.57H361.5M204.4 228.29H361.5M204.4 223.01H361.5M204.4 212.45H361.5M204.4 207.18H361.5M204.4 201.9H361.5M204.4 191.34H361.5M204.4 186.06H361.5M204.4 180.78H361.5" stroke="#f3f3f3" stroke-width="0.55" fill="none"/>
<path d="M220.11 175.5V302.2M251.53 175.5V302.2M282.95 175.5V302.2M314.37 175.5V302.2M345.79 175.5V302.2M204.4 281.08H361.5M204.4 259.97H361.5M204.4 238.85H361.5M204.4 217.73H361.5M204.4 196.62H361.5" stroke="#d8d8d8" stroke-width="0.75" fill="none"/>
<path d="M220.11 302.2v-2.6M251.53 302.2v-2.6M282.95 302.2v-2.6M314.37 302.2v-2.6M345.79 302.2v-2.6M204.4 281.08h2.8M204.4 259.97h2.8M204.4 238.85h2.8M204.4 217.73h2.8M204.4 196.62h2.8" stroke="#444" stroke-width="0.9" fill="none"/>
<text transform="translate(201.4 303.95) scale(0.85 1)" text-anchor="end" font-size="6.2" fill="#222" stroke="#222" stroke-width="0.1">48</text>
<text transform="translate(201.4 282.83) scale(0.85 1)" text-anchor="end" font-size="6.2" fill="#222" stroke="#222" stroke-width="0.1">52</text>
<text transform="translate(201.4 261.72) scale(0.85 1)" text-anchor="end" font-size="6.2" fill="#222" stroke="#222" stroke-width="0.1">56</text>
<text transform="translate(201.4 240.6) scale(0.85 1)" text-anchor="end" font-size="6.2" fill="#222" stroke="#222" stroke-width="0.1">60</text>
<text transform="translate(201.4 219.48) scale(0.85 1)" text-anchor="end" font-size="6.2" fill="#222" stroke="#222" stroke-width="0.1">64</text>
<text transform="translate(201.4 198.37) scale(0.85 1)" text-anchor="end" font-size="6.2" fill="#222" stroke="#222" stroke-width="0.1">68</text>
<text transform="translate(201.4 177.25) scale(0.85 1)" text-anchor="end" font-size="6.2" fill="#222" stroke="#222" stroke-width="0.1">72</text>
<text transform="translate(220.11 309.5) scale(0.85 1)" text-anchor="middle" font-size="6.2" fill="#222" stroke="#222" stroke-width="0.1">0</text>
<text transform="translate(251.53 309.5) scale(0.85 1)" text-anchor="middle" font-size="6.2" fill="#222" stroke="#222" stroke-width="0.1">2</text>
<text transform="translate(282.95 309.5) scale(0.85 1)" text-anchor="middle" font-size="6.2" fill="#222" stroke="#222" stroke-width="0.1">4</text>
<text transform="translate(314.37 309.5) scale(0.85 1)" text-anchor="middle" font-size="6.2" fill="#222" stroke="#222" stroke-width="0.1">6</text>
<text transform="translate(345.79 309.5) scale(0.85 1)" text-anchor="middle" font-size="6.2" fill="#222" stroke="#222" stroke-width="0.1">8</text>
<text transform="translate(283.25 317.45) scale(0.85 1)" text-anchor="middle" font-size="7.8" fill="#1a1a1a" stroke="#1a1a1a" stroke-width="0.14">Time (s)</text>
<text transform="translate(192.3 238.85) rotate(-90) scale(0.93 1)" text-anchor="middle" font-size="7.1" fill="#1a1a1a" stroke="#1a1a1a" stroke-width="0.16">Temperature (°C)</text>
<path d="M220.11 266.3 C220.69 265.9 221.32 265.74 221.84 265.09 C222.67 264.03 223.22 261.66 223.88 259.97 C224.53 258.3 225.01 256.37 225.77 255 C226.37 253.91 226.95 253.22 227.81 252.29 C228.9 251.1 230.52 249.64 231.95 248.59 C233.29 247.61 234.7 246.87 236.1 246.12 C237.46 245.39 238.85 244.77 240.24 244.16 C241.62 243.56 243 243.01 244.39 242.47 C245.77 241.94 247.15 241.43 248.53 240.94 C249.91 240.46 251.29 239.99 252.68 239.53 C254.06 239.08 255.44 238.64 256.82 238.2 C258.2 237.77 259.59 237.35 260.97 236.94 C262.35 236.53 263.73 236.13 265.11 235.73 C266.49 235.34 267.88 234.95 269.26 234.57 C270.64 234.18 272.02 233.81 273.4 233.44 C274.78 233.07 276.17 232.71 277.55 232.35 C278.93 231.99 280.71 231.38 281.69 231.28 C282.23 231.23 282.57 231.15 282.95 231.35 C283.44 231.62 283.82 232.4 284.21 233.04 C284.67 233.81 285.03 234.72 285.46 235.68 C285.97 236.81 286.44 238.12 287.03 239.38 C287.68 240.75 288.32 242.32 289.23 243.6 C290.15 244.89 291.25 246.04 292.53 247.07 C293.93 248.19 295.74 249.09 297.37 249.99 C298.97 250.88 300.59 251.67 302.22 252.43 C303.82 253.17 305.44 253.86 307.06 254.52 C308.66 255.17 310.28 255.78 311.9 256.36 C313.51 256.95 315.12 257.49 316.74 258.02 C318.35 258.54 319.97 259.04 321.58 259.52 C323.19 260 324.81 260.46 326.42 260.9 C328.04 261.35 329.65 261.77 331.27 262.18 C332.88 262.59 334.49 262.99 336.11 263.37 C337.72 263.75 339.33 264.13 340.95 264.49 C342.56 264.85 344.18 265.19 345.79 265.54" stroke="#333" stroke-width="1.05" fill="none" stroke-linejoin="round"/>
<path d="M220.11 302.2 C220.32 299.47 220.35 296.24 220.74 294.02 C221.01 292.44 221.36 291.42 221.84 290.06 C222.38 288.53 222.92 286.76 223.88 285.31 C224.89 283.78 226.38 282.24 227.81 281.17 C229.11 280.2 230.61 279.73 232.01 279.04 C233.41 278.34 234.81 277.67 236.22 277.01 C237.62 276.36 239.02 275.72 240.42 275.09 C241.82 274.46 243.23 273.85 244.63 273.25 C246.03 272.65 247.43 272.07 248.84 271.49 C250.23 270.92 251.64 270.36 253.04 269.8 C254.44 269.25 255.84 268.71 257.25 268.18 C258.65 267.65 260.05 267.13 261.45 266.62 C262.85 266.11 264.25 265.6 265.66 265.11 C267.06 264.62 268.46 264.13 269.86 263.65 C271.26 263.17 272.66 262.7 274.07 262.24 C275.47 261.77 276.87 261.32 278.27 260.87 C279.67 260.42 281.08 259.98 282.48 259.54 C282.74 260.21 283.03 260.77 283.26 261.55 C283.57 262.59 283.71 264.02 284.05 265.25 C284.39 266.49 284.85 267.63 285.31 268.94 C285.83 270.45 286.13 272.34 287.03 273.8 C287.98 275.33 289.49 276.71 290.96 277.88 C292.45 279.06 294.27 279.9 295.95 280.85 C297.6 281.79 299.26 282.69 300.93 283.54 C302.58 284.39 304.25 285.19 305.92 285.96 C307.57 286.72 309.23 287.44 310.9 288.14 C312.56 288.83 314.22 289.5 315.88 290.14 C317.54 290.77 319.2 291.38 320.87 291.97 C322.53 292.56 324.19 293.13 325.85 293.68 C327.51 294.23 329.17 294.76 330.84 295.27 C332.5 295.78 334.16 296.28 335.82 296.77 C337.48 297.25 339.14 297.72 340.81 298.18 C342.47 298.63 344.13 299.07 345.79 299.51" stroke="#ff0000" stroke-width="1.35" fill="none" stroke-dasharray="3.8 2.3" stroke-linejoin="round"/>
<path d="M220.11 278.6 C221.37 277.67 222.58 276.62 223.88 275.8 C225.15 275.02 226.44 274.29 227.81 273.78 C229.17 273.27 230.64 273.12 232.05 272.73 C233.47 272.35 234.87 271.86 236.29 271.45 C237.7 271.05 239.12 270.66 240.53 270.3 C241.94 269.94 243.36 269.62 244.77 269.31 C246.19 269.01 247.6 268.74 249.02 268.49 C250.43 268.23 251.84 268.01 253.26 267.79 C254.67 267.58 256.08 267.39 257.5 267.22 C258.91 267.04 260.33 266.88 261.74 266.73 C263.15 266.59 264.57 266.46 265.98 266.33 C267.4 266.21 268.81 266.1 270.22 266 C271.64 265.9 273.05 265.81 274.47 265.73 C275.88 265.65 277.29 265.58 278.71 265.51 C280.12 265.44 281.98 265.1 282.95 265.33 C283.52 265.47 283.79 265.74 284.21 266.04 C284.69 266.39 285.13 266.97 285.62 267.36 C286.08 267.72 286.43 267.95 287.03 268.31 C288.01 268.89 289.55 269.78 290.96 270.39 C292.5 271.05 294.27 271.61 295.95 272.09 C297.6 272.57 299.26 272.94 300.93 273.29 C302.59 273.65 304.25 273.94 305.92 274.22 C307.57 274.5 309.24 274.74 310.9 274.97 C312.56 275.21 314.22 275.41 315.88 275.61 C317.54 275.81 319.21 275.99 320.87 276.16 C322.53 276.33 324.19 276.49 325.85 276.65 C327.51 276.8 329.18 276.94 330.84 277.08 C332.5 277.22 334.16 277.35 335.82 277.47 C337.48 277.6 339.14 277.72 340.81 277.83 C342.47 277.95 344.13 278.05 345.79 278.16" stroke="#0000ff" stroke-width="1.3" fill="none" stroke-dasharray="4.3 1.8 0.9 1.8" stroke-linejoin="round"/>
<rect x="204.4" y="175.5" width="157.1" height="126.7" fill="none" stroke="#5e5e5e" stroke-width="1.1"/>
<rect x="205" y="180.9" width="130.1" height="24.7" fill="#fff"/>
<path d="M210 185.5h15.7" stroke="#3a3a3a" stroke-width="1.25"/>
<path d="M210 193.55h13.5" stroke="#ff0000" stroke-width="1.5" stroke-dasharray="4.5 3.9"/>
<path d="M210 201.6h15.7" stroke="#0000ff" stroke-width="1.4" stroke-dasharray="5.4 2.2 1.1 2.3"/>
<text transform="translate(226.9 188) scale(0.885 1)" font-size="7.07" fill="#1a1a1a" stroke="#1a1a1a" stroke-width="0.18">FEM</text>
<text transform="translate(226.9 196.05) scale(0.885 1)" font-size="7.07" fill="#1a1a1a" stroke="#1a1a1a" stroke-width="0.18">Cauer model based on theoretical formulas</text>
<text transform="translate(226.9 204.1) scale(0.885 1)" font-size="7.07" fill="#1a1a1a" stroke="#1a1a1a" stroke-width="0.18">Cauer model based on structure function</text>
<text x="257.7" y="229.3" font-size="6.6" fill="#222" font-style="italic">T</text>
<text x="261.5" y="226.5" font-size="3.8" fill="#222" textLength="5.6" lengthAdjust="spacingAndGlyphs">FEM</text>
<text x="261.5" y="230.3" font-size="3.8" fill="#222" textLength="24.8" lengthAdjust="spacingAndGlyphs">Lower Cu layer</text>
<text transform="translate(286.8 229.4) scale(0.88 1)" font-size="6.3" fill="#222" stroke="#222" stroke-width="0.08">=61.40°C</text>
<text x="239" y="256.8" font-size="6.6" fill="#ff0000" font-style="italic">T</text>
<text x="242.8" y="254.8" font-size="3.8" fill="#ff0000" textLength="25" lengthAdjust="spacingAndGlyphs">Cauer-theoretical</text>
<text x="242.8" y="258.5" font-size="3.8" fill="#ff0000" textLength="24.8" lengthAdjust="spacingAndGlyphs">Lower Cu layer</text>
<text transform="translate(268.2 257.5) scale(0.88 1)" font-size="6.3" fill="#ff0000" stroke="#ff0000" stroke-width="0.08">=56.01°C</text>
<text x="238" y="281.7" font-size="6.6" fill="#0000ff" font-style="italic">T</text>
<text x="241.8" y="279.3" font-size="3.8" fill="#0000ff" textLength="15.4" lengthAdjust="spacingAndGlyphs">Cauer-test</text>
<text x="241.8" y="282.9" font-size="3.8" fill="#0000ff" textLength="23.4" lengthAdjust="spacingAndGlyphs">Lower Cu layer</text>
<text transform="translate(265.5 281.6) scale(0.88 1)" font-size="6.3" fill="#0000ff" stroke="#0000ff" stroke-width="0.08">=54.99°C</text>
<text x="274.6" y="331.9" text-anchor="middle" font-size="10" fill="#111" stroke="#111" stroke-width="0.12"><tspan font-weight="bold">(e)</tspan> Lower Cu layer</text>
</g>
<g>
<path d="M393.42 173.5V301.3M409.26 173.5V301.3M417.18 173.5V301.3M425.1 173.5V301.3M440.94 173.5V301.3M448.86 173.5V301.3M456.78 173.5V301.3M472.62 173.5V301.3M480.54 173.5V301.3M488.46 173.5V301.3M504.3 173.5V301.3M512.22 173.5V301.3M520.14 173.5V301.3M535.98 173.5V301.3M385.5 295.98H543.9M385.5 290.65H543.9M385.5 285.33H543.9M385.5 274.68H543.9M385.5 269.35H543.9M385.5 264.02H543.9M385.5 253.38H543.9M385.5 248.05H543.9M385.5 242.73H543.9M385.5 232.07H543.9M385.5 226.75H543.9M385.5 221.43H543.9M385.5 210.78H543.9M385.5 205.45H543.9M385.5 200.12H543.9M385.5 189.47H543.9M385.5 184.15H543.9M385.5 178.82H543.9" stroke="#f3f3f3" stroke-width="0.55" fill="none"/>
<path d="M401.34 173.5V301.3M433.02 173.5V301.3M464.7 173.5V301.3M496.38 173.5V301.3M528.06 173.5V301.3M385.5 280H543.9M385.5 258.7H543.9M385.5 237.4H543.9M385.5 216.1H543.9M385.5 194.8H543.9" stroke="#d8d8d8" stroke-width="0.75" fill="none"/>
<path d="M401.34 301.3v-2.6M433.02 301.3v-2.6M464.7 301.3v-2.6M496.38 301.3v-2.6M528.06 301.3v-2.6M385.5 280h2.8M385.5 258.7h2.8M385.5 237.4h2.8M385.5 216.1h2.8M385.5 194.8h2.8" stroke="#444" stroke-width="0.9" fill="none"/>
<text transform="translate(382.5 303.05) scale(0.85 1)" text-anchor="end" font-size="6.2" fill="#222" stroke="#222" stroke-width="0.1">48</text>
<text transform="translate(382.5 281.75) scale(0.85 1)" text-anchor="end" font-size="6.2" fill="#222" stroke="#222" stroke-width="0.1">52</text>
<text transform="translate(382.5 260.45) scale(0.85 1)" text-anchor="end" font-size="6.2" fill="#222" stroke="#222" stroke-width="0.1">56</text>
<text transform="translate(382.5 239.15) scale(0.85 1)" text-anchor="end" font-size="6.2" fill="#222" stroke="#222" stroke-width="0.1">60</text>
<text transform="translate(382.5 217.85) scale(0.85 1)" text-anchor="end" font-size="6.2" fill="#222" stroke="#222" stroke-width="0.1">64</text>
<text transform="translate(382.5 196.55) scale(0.85 1)" text-anchor="end" font-size="6.2" fill="#222" stroke="#222" stroke-width="0.1">68</text>
<text transform="translate(382.5 175.25) scale(0.85 1)" text-anchor="end" font-size="6.2" fill="#222" stroke="#222" stroke-width="0.1">72</text>
<text transform="translate(401.34 308.6) scale(0.85 1)" text-anchor="middle" font-size="6.2" fill="#222" stroke="#222" stroke-width="0.1">0</text>
<text transform="translate(433.02 308.6) scale(0.85 1)" text-anchor="middle" font-size="6.2" fill="#222" stroke="#222" stroke-width="0.1">2</text>
<text transform="translate(464.7 308.6) scale(0.85 1)" text-anchor="middle" font-size="6.2" fill="#222" stroke="#222" stroke-width="0.1">4</text>
<text transform="translate(496.38 308.6) scale(0.85 1)" text-anchor="middle" font-size="6.2" fill="#222" stroke="#222" stroke-width="0.1">6</text>
<text transform="translate(528.06 308.6) scale(0.85 1)" text-anchor="middle" font-size="6.2" fill="#222" stroke="#222" stroke-width="0.1">8</text>
<text transform="translate(465 316.55) scale(0.85 1)" text-anchor="middle" font-size="7.8" fill="#1a1a1a" stroke="#1a1a1a" stroke-width="0.14">Time (s)</text>
<text transform="translate(373.4 237.4) rotate(-90) scale(0.93 1)" text-anchor="middle" font-size="7.1" fill="#1a1a1a" stroke="#1a1a1a" stroke-width="0.16">Temperature (°C)</text>
<path d="M401.34 265.09 C401.97 264.74 402.73 264.57 403.24 264.02 C403.83 263.39 404.12 262.3 404.51 261.36 C404.92 260.36 405.22 259.23 405.62 258.17 C406.01 257.1 406.27 256.01 406.88 254.97 C407.58 253.79 408.64 252.65 409.74 251.52 C410.96 250.26 412.49 248.89 413.94 247.83 C415.3 246.83 416.72 246.06 418.14 245.29 C419.53 244.54 420.94 243.9 422.35 243.27 C423.74 242.65 425.14 242.08 426.55 241.54 C427.95 240.99 429.35 240.48 430.75 239.99 C432.15 239.49 433.55 239.02 434.96 238.57 C436.36 238.11 437.76 237.67 439.16 237.24 C440.56 236.81 441.96 236.4 443.36 235.99 C444.76 235.58 446.17 235.19 447.57 234.8 C448.97 234.41 450.37 234.03 451.77 233.66 C453.17 233.29 454.57 232.92 455.98 232.56 C457.38 232.2 458.78 231.85 460.18 231.51 C461.58 231.16 462.98 230.82 464.38 230.48 C465.07 231.23 465.87 231.8 466.44 232.71 C467.13 233.8 467.43 235.33 468.03 236.71 C468.68 238.22 469.3 239.99 470.24 241.39 C471.16 242.76 472.27 243.95 473.57 245.04 C474.99 246.23 476.85 247.19 478.52 248.15 C480.16 249.09 481.81 249.92 483.48 250.73 C485.12 251.52 486.77 252.24 488.43 252.94 C490.07 253.62 491.73 254.26 493.38 254.88 C495.03 255.49 496.68 256.06 498.34 256.62 C499.99 257.17 501.64 257.69 503.29 258.19 C504.94 258.7 506.59 259.18 508.25 259.64 C509.89 260.1 511.55 260.55 513.2 260.98 C514.85 261.41 516.5 261.82 518.15 262.22 C519.8 262.63 521.45 263.01 523.11 263.39 C524.76 263.77 526.41 264.12 528.06 264.49" stroke="#333" stroke-width="1.05" fill="none" stroke-linejoin="round"/>
<path d="M401.34 301.3 C401.39 300.06 401.3 298.97 401.5 297.57 C401.77 295.72 402.42 293.12 403.08 291.18 C403.67 289.47 404.37 287.88 405.14 286.5 C405.82 285.29 406.52 284.13 407.36 283.3 C408.08 282.59 408.79 282.16 409.74 281.68 C410.9 281.1 412.55 280.82 413.93 280.25 C415.34 279.65 416.72 278.86 418.12 278.16 C419.52 277.45 420.91 276.71 422.31 276 C423.7 275.29 425.1 274.6 426.5 273.92 C427.89 273.25 429.29 272.6 430.69 271.97 C432.09 271.34 433.48 270.74 434.88 270.15 C436.28 269.56 437.68 268.99 439.08 268.44 C440.47 267.89 441.87 267.36 443.27 266.85 C444.66 266.34 446.06 265.84 447.46 265.36 C448.85 264.87 450.25 264.41 451.65 263.95 C453.05 263.5 454.44 263.06 455.84 262.63 C457.24 262.21 458.63 261.79 460.03 261.39 C461.43 260.98 462.83 260.6 464.22 260.21 C464.59 261.12 464.98 261.84 465.33 262.96 C465.85 264.6 465.94 267.25 466.76 269.19 C467.58 271.14 468.75 273.08 470.24 274.62 C471.79 276.22 474.12 277.37 475.95 278.56 C477.58 279.61 479.09 280.51 480.68 281.42 C482.25 282.31 483.83 283.16 485.42 283.97 C486.99 284.78 488.57 285.54 490.16 286.28 C491.73 287.01 493.31 287.7 494.9 288.37 C496.47 289.04 498.05 289.68 499.63 290.3 C501.21 290.91 502.79 291.51 504.37 292.08 C505.95 292.65 507.53 293.2 509.11 293.74 C510.69 294.28 512.27 294.79 513.85 295.3 C515.42 295.8 517 296.29 518.58 296.77 C520.16 297.24 521.74 297.7 523.32 298.15 C524.9 298.6 526.48 299.03 528.06 299.47" stroke="#ff0000" stroke-width="1.35" fill="none" stroke-dasharray="3.8 2.3" stroke-linejoin="round"/>
<path d="M401.34 277.39 C404.14 276.46 407.4 275.29 409.74 274.61 C411.37 274.12 412.55 273.86 413.96 273.52 C415.37 273.18 416.78 272.87 418.19 272.58 C419.6 272.29 421.01 272.03 422.42 271.78 C423.83 271.52 425.24 271.29 426.65 271.07 C428.06 270.85 429.47 270.64 430.88 270.44 C432.28 270.24 433.69 270.06 435.1 269.88 C436.51 269.7 437.92 269.53 439.33 269.37 C440.74 269.2 442.15 269.05 443.56 268.9 C444.97 268.75 446.38 268.61 447.79 268.47 C449.2 268.33 450.61 268.2 452.02 268.07 C453.42 267.94 454.83 267.82 456.24 267.7 C457.65 267.58 459.06 267.47 460.47 267.35 C461.88 267.24 463.55 266.92 464.7 267.03 C465.52 267.11 465.92 267.35 466.76 267.59 C468.08 267.97 470.14 268.59 471.83 269.09 C473.53 269.6 475.23 270.19 476.94 270.64 C478.64 271.09 480.34 271.46 482.05 271.82 C483.75 272.17 485.46 272.48 487.16 272.77 C488.87 273.07 490.57 273.33 492.28 273.58 C493.98 273.84 495.68 274.07 497.39 274.29 C499.09 274.52 500.8 274.72 502.5 274.92 C504.2 275.12 505.91 275.31 507.61 275.49 C509.32 275.67 511.02 275.84 512.72 276.01 C514.43 276.18 516.13 276.33 517.84 276.49 C519.54 276.64 521.24 276.79 522.95 276.93 C524.65 277.07 526.36 277.21 528.06 277.35" stroke="#0000ff" stroke-width="1.3" fill="none" stroke-dasharray="4.3 1.8 0.9 1.8" stroke-linejoin="round"/>
<rect x="385.5" y="173.5" width="158.4" height="127.8" fill="none" stroke="#5e5e5e" stroke-width="1.1"/>
<rect x="386.1" y="179.5" width="131.7" height="25" fill="#fff"/>
<path d="M392.7 184.1h15.7" stroke="#3a3a3a" stroke-width="1.25"/>
<path d="M392.7 192.3h13.5" stroke="#ff0000" stroke-width="1.5" stroke-dasharray="4.5 3.9"/>
<path d="M392.7 200.5h15.7" stroke="#0000ff" stroke-width="1.4" stroke-dasharray="5.4 2.2 1.1 2.3"/>
<text transform="translate(409.6 186.6) scale(0.885 1)" font-size="7.07" fill="#1a1a1a" stroke="#1a1a1a" stroke-width="0.18">FEM</text>
<text transform="translate(409.6 194.8) scale(0.885 1)" font-size="7.07" fill="#1a1a1a" stroke="#1a1a1a" stroke-width="0.18">Cauer model based on theoretical formulas</text>
<text transform="translate(409.6 203) scale(0.885 1)" font-size="7.07" fill="#1a1a1a" stroke="#1a1a1a" stroke-width="0.18">Cauer model based on structure function</text>
<text x="446.8" y="227.6" font-size="6.6" fill="#222" font-style="italic">T</text>
<text x="450.6" y="224.5" font-size="3.8" fill="#222" textLength="5.6" lengthAdjust="spacingAndGlyphs">FEM</text>
<text x="450.6" y="228.5" font-size="3.8" fill="#222" textLength="17.2" lengthAdjust="spacingAndGlyphs">DBC solder</text>
<text transform="translate(468.1 227.7) scale(0.88 1)" font-size="6.3" fill="#222" stroke="#222" stroke-width="0.08">=61.28°C</text>
<text x="427.9" y="258.7" font-size="6.6" fill="#ff0000" font-style="italic">T</text>
<text x="431.7" y="256.8" font-size="3.8" fill="#ff0000" textLength="25.5" lengthAdjust="spacingAndGlyphs">Cauer-theoretical</text>
<text x="431.7" y="260.6" font-size="3.8" fill="#ff0000" textLength="17.4" lengthAdjust="spacingAndGlyphs">DBC solder</text>
<text transform="translate(457.6 259.5) scale(0.88 1)" font-size="6.3" fill="#ff0000" stroke="#ff0000" stroke-width="0.08">=55.73°C</text>
<text x="425.7" y="279.5" font-size="6.6" fill="#0000ff" font-style="italic">T</text>
<text x="429.5" y="277.2" font-size="3.8" fill="#0000ff" textLength="15.4" lengthAdjust="spacingAndGlyphs">Cauer-test</text>
<text x="429.5" y="280.8" font-size="3.8" fill="#0000ff" textLength="17.4" lengthAdjust="spacingAndGlyphs">DBC solder</text>
<text transform="translate(447.3 279.7) scale(0.88 1)" font-size="6.3" fill="#0000ff" stroke="#0000ff" stroke-width="0.08">=54.47°C</text>
<text x="457.2" y="331.9" text-anchor="middle" font-size="10" fill="#111" stroke="#111" stroke-width="0.12"><tspan font-weight="bold">(f)</tspan> DBC solder</text>
</g>
<g>
<path d="M28.84 341.4V469.5M44.72 341.4V469.5M52.66 341.4V469.5M60.6 341.4V469.5M76.48 341.4V469.5M84.42 341.4V469.5M92.36 341.4V469.5M108.24 341.4V469.5M116.18 341.4V469.5M124.12 341.4V469.5M140 341.4V469.5M147.94 341.4V469.5M155.88 341.4V469.5M171.76 341.4V469.5M20.9 464.16H179.7M20.9 458.82H179.7M20.9 453.49H179.7M20.9 442.81H179.7M20.9 437.48H179.7M20.9 432.14H179.7M20.9 421.46H179.7M20.9 416.12H179.7M20.9 410.79H179.7M20.9 400.11H179.7M20.9 394.77H179.7M20.9 389.44H179.7M20.9 378.76H179.7M20.9 373.42H179.7M20.9 368.09H179.7M20.9 357.41H179.7M20.9 352.07H179.7M20.9 346.74H179.7" stroke="#f3f3f3" stroke-width="0.55" fill="none"/>
<path d="M36.78 341.4V469.5M68.54 341.4V469.5M100.3 341.4V469.5M132.06 341.4V469.5M163.82 341.4V469.5M20.9 448.15H179.7M20.9 426.8H179.7M20.9 405.45H179.7M20.9 384.1H179.7M20.9 362.75H179.7" stroke="#d8d8d8" stroke-width="0.75" fill="none"/>
<path d="M36.78 469.5v-2.6M68.54 469.5v-2.6M100.3 469.5v-2.6M132.06 469.5v-2.6M163.82 469.5v-2.6M20.9 448.15h2.8M20.9 426.8h2.8M20.9 405.45h2.8M20.9 384.1h2.8M20.9 362.75h2.8" stroke="#444" stroke-width="0.9" fill="none"/>
<text transform="translate(17.9 471.25) scale(0.85 1)" text-anchor="end" font-size="6.2" fill="#222" stroke="#222" stroke-width="0.1">48</text>
<text transform="translate(17.9 449.9) scale(0.85 1)" text-anchor="end" font-size="6.2" fill="#222" stroke="#222" stroke-width="0.1">52</text>
<text transform="translate(17.9 428.55) scale(0.85 1)" text-anchor="end" font-size="6.2" fill="#222" stroke="#222" stroke-width="0.1">56</text>
<text transform="translate(17.9 407.2) scale(0.85 1)" text-anchor="end" font-size="6.2" fill="#222" stroke="#222" stroke-width="0.1">60</text>
<text transform="translate(17.9 385.85) scale(0.85 1)" text-anchor="end" font-size="6.2" fill="#222" stroke="#222" stroke-width="0.1">64</text>
<text transform="translate(17.9 364.5) scale(0.85 1)" text-anchor="end" font-size="6.2" fill="#222" stroke="#222" stroke-width="0.1">68</text>
<text transform="translate(17.9 343.15) scale(0.85 1)" text-anchor="end" font-size="6.2" fill="#222" stroke="#222" stroke-width="0.1">72</text>
<text transform="translate(36.78 476.8) scale(0.85 1)" text-anchor="middle" font-size="6.2" fill="#222" stroke="#222" stroke-width="0.1">0</text>
<text transform="translate(68.54 476.8) scale(0.85 1)" text-anchor="middle" font-size="6.2" fill="#222" stroke="#222" stroke-width="0.1">2</text>
<text transform="translate(100.3 476.8) scale(0.85 1)" text-anchor="middle" font-size="6.2" fill="#222" stroke="#222" stroke-width="0.1">4</text>
<text transform="translate(132.06 476.8) scale(0.85 1)" text-anchor="middle" font-size="6.2" fill="#222" stroke="#222" stroke-width="0.1">6</text>
<text transform="translate(163.82 476.8) scale(0.85 1)" text-anchor="middle" font-size="6.2" fill="#222" stroke="#222" stroke-width="0.1">8</text>
<text transform="translate(100.6 484.75) scale(0.85 1)" text-anchor="middle" font-size="7.8" fill="#1a1a1a" stroke="#1a1a1a" stroke-width="0.14">Time (s)</text>
<text transform="translate(8.8 405.45) rotate(-90) scale(0.93 1)" text-anchor="middle" font-size="7.1" fill="#1a1a1a" stroke="#1a1a1a" stroke-width="0.16">Temperature (°C)</text>
<path d="M36.78 433.31 C37.42 432.94 38.1 432.82 38.69 432.19 C39.6 431.21 40.24 428.89 41.07 427.39 C41.83 426 42.61 424.65 43.45 423.49 C44.21 422.45 44.86 421.56 45.83 420.69 C46.97 419.67 48.59 418.73 50 417.88 C51.37 417.05 52.76 416.33 54.16 415.62 C55.54 414.93 56.93 414.29 58.33 413.68 C59.71 413.06 61.1 412.49 62.49 411.94 C63.88 411.38 65.27 410.86 66.66 410.35 C68.04 409.84 69.43 409.35 70.82 408.87 C72.21 408.4 73.6 407.94 74.99 407.49 C76.38 407.05 77.77 406.62 79.16 406.19 C80.54 405.77 81.93 405.36 83.32 404.96 C84.71 404.56 86.1 404.16 87.49 403.78 C88.87 403.4 90.26 403.02 91.65 402.65 C93.04 402.28 94.43 401.92 95.82 401.57 C97.2 401.22 99.01 400.38 99.98 400.53 C100.55 400.61 100.84 400.83 101.25 401.29 C102.03 402.15 102.68 404.59 103.48 406.09 C104.22 407.48 104.88 408.73 105.86 409.99 C106.95 411.38 108.34 412.89 109.83 414.01 C111.3 415.13 113.09 415.84 114.74 416.69 C116.36 417.52 118 418.3 119.64 419.05 C121.27 419.79 122.91 420.49 124.55 421.16 C126.18 421.82 127.82 422.45 129.46 423.06 C131.09 423.66 132.73 424.24 134.37 424.79 C136 425.35 137.64 425.88 139.28 426.39 C140.91 426.9 142.55 427.39 144.19 427.87 C145.82 428.35 147.46 428.81 149.09 429.25 C150.73 429.7 152.37 430.13 154 430.55 C155.64 430.97 157.27 431.38 158.91 431.78 C160.55 432.17 162.18 432.55 163.82 432.93" stroke="#333" stroke-width="1.05" fill="none" stroke-linejoin="round"/>
<path d="M36.78 469.5 C37.15 468.47 37.39 467.48 37.89 466.4 C38.49 465.13 39.18 463.71 40.27 462.4 C41.65 460.77 44.04 458.77 45.83 457.64 C47.24 456.75 48.58 456.5 49.94 455.82 C51.32 455.13 52.67 454.29 54.04 453.53 C55.41 452.76 56.77 451.98 58.14 451.24 C59.51 450.5 60.88 449.78 62.25 449.08 C63.61 448.39 64.98 447.73 66.35 447.08 C67.72 446.45 69.09 445.83 70.46 445.24 C71.82 444.65 73.19 444.09 74.56 443.54 C75.93 443 77.3 442.48 78.67 441.97 C80.03 441.47 81.4 440.98 82.77 440.51 C84.14 440.05 85.5 439.6 86.88 439.16 C88.24 438.73 89.61 438.31 90.98 437.9 C92.35 437.49 93.71 437.1 95.08 436.72 C96.45 436.34 98.08 435.44 99.19 435.61 C100.03 435.74 100.69 436.3 101.25 436.94 C101.91 437.69 102 439.01 102.68 439.98 C103.47 441.11 104.45 442.2 105.86 443.19 C107.82 444.56 111.55 445.66 113.8 446.87 C115.56 447.82 116.82 448.79 118.35 449.68 C119.85 450.57 121.37 451.4 122.89 452.21 C124.4 453.01 125.92 453.77 127.44 454.5 C128.95 455.23 130.47 455.92 131.99 456.59 C133.5 457.26 135.02 457.9 136.54 458.53 C138.05 459.15 139.56 459.74 141.08 460.32 C142.6 460.9 144.11 461.46 145.63 462.01 C147.14 462.55 148.66 463.07 150.18 463.59 C151.69 464.1 153.21 464.59 154.73 465.08 C156.24 465.56 157.76 466.03 159.27 466.49 C160.79 466.95 162.3 467.39 163.82 467.84" stroke="#ff0000" stroke-width="1.35" fill="none" stroke-dasharray="3.8 2.3" stroke-linejoin="round"/>
<path d="M36.78 446.82 C39.8 446.86 43.42 446.94 45.83 446.96 C47.43 446.98 48.49 446.99 49.83 446.98 C51.16 446.96 52.49 446.93 53.82 446.89 C55.15 446.84 56.48 446.78 57.81 446.71 C59.15 446.64 60.48 446.56 61.81 446.48 C63.14 446.39 64.47 446.29 65.8 446.19 C67.14 446.09 68.47 445.98 69.8 445.87 C71.13 445.76 72.46 445.65 73.79 445.53 C75.12 445.42 76.46 445.3 77.79 445.17 C79.12 445.05 80.45 444.93 81.78 444.8 C83.11 444.68 84.44 444.55 85.78 444.42 C87.11 444.29 88.44 444.16 89.77 444.03 C91.1 443.9 92.43 443.77 93.76 443.64 C95.1 443.51 96.31 443.34 97.76 443.24 C99.49 443.13 101.29 443.09 103.48 443.08 C106.41 443.06 111.05 443.16 113.8 443.24 C115.62 443.28 116.83 443.33 118.35 443.4 C119.86 443.48 121.38 443.58 122.89 443.69 C124.41 443.79 125.92 443.91 127.44 444.03 C128.96 444.14 130.47 444.27 131.99 444.39 C133.5 444.51 135.02 444.64 136.54 444.76 C138.05 444.89 139.57 445.01 141.08 445.13 C142.6 445.26 144.11 445.38 145.63 445.5 C147.15 445.63 148.66 445.75 150.18 445.87 C151.69 445.99 153.21 446.1 154.73 446.22 C156.24 446.34 157.76 446.45 159.27 446.57 C160.79 446.68 162.3 446.8 163.82 446.91" stroke="#0000ff" stroke-width="1.3" fill="none" stroke-dasharray="4.3 1.8 0.9 1.8" stroke-linejoin="round"/>
<rect x="20.9" y="341.4" width="158.8" height="128.1" fill="none" stroke="#5e5e5e" stroke-width="1.1"/>
<rect x="21.5" y="343.4" width="130.4" height="24.9" fill="#fff"/>
<path d="M26.8 348h15.7" stroke="#3a3a3a" stroke-width="1.25"/>
<path d="M26.8 356.15h13.5" stroke="#ff0000" stroke-width="1.5" stroke-dasharray="4.5 3.9"/>
<path d="M26.8 364.3h15.7" stroke="#0000ff" stroke-width="1.4" stroke-dasharray="5.4 2.2 1.1 2.3"/>
<text transform="translate(43.7 350.5) scale(0.885 1)" font-size="7.07" fill="#1a1a1a" stroke="#1a1a1a" stroke-width="0.18">FEM</text>
<text transform="translate(43.7 358.65) scale(0.885 1)" font-size="7.07" fill="#1a1a1a" stroke="#1a1a1a" stroke-width="0.18">Cauer model based on theoretical formulas</text>
<text transform="translate(43.7 366.8) scale(0.885 1)" font-size="7.07" fill="#1a1a1a" stroke="#1a1a1a" stroke-width="0.18">Cauer model based on structure function</text>
<text x="72.7" y="396.1" font-size="6.6" fill="#222" font-style="italic">T</text>
<text x="76.5" y="393.6" font-size="3.8" fill="#222" textLength="5.6" lengthAdjust="spacingAndGlyphs">FEM</text>
<text x="76.5" y="397.4" font-size="3.8" fill="#222" textLength="19.6" lengthAdjust="spacingAndGlyphs">Cu baseplate</text>
<text transform="translate(97 396) scale(0.88 1)" font-size="6.3" fill="#222" stroke="#222" stroke-width="0.08">=60.89°C</text>
<text x="72.6" y="433.8" font-size="6.6" fill="#ff0000" font-style="italic">T</text>
<text x="76.4" y="431.5" font-size="3.8" fill="#ff0000" textLength="25.9" lengthAdjust="spacingAndGlyphs">Cauer-theoretical</text>
<text x="76.4" y="435.1" font-size="3.8" fill="#ff0000" textLength="19.6" lengthAdjust="spacingAndGlyphs">Cu baseplate</text>
<text transform="translate(102.7 433.9) scale(0.88 1)" font-size="6.3" fill="#ff0000" stroke="#ff0000" stroke-width="0.08">=54.32°C</text>
<text x="70.1" y="453.5" font-size="6.6" fill="#0000ff" font-style="italic">T</text>
<text x="73.9" y="450.9" font-size="3.8" fill="#0000ff" textLength="15.4" lengthAdjust="spacingAndGlyphs">Cauer-test</text>
<text x="73.9" y="454.8" font-size="3.8" fill="#0000ff" textLength="19.6" lengthAdjust="spacingAndGlyphs">Cu baseplate</text>
<text transform="translate(93.8 453.7) scale(0.88 1)" font-size="6.3" fill="#0000ff" stroke="#0000ff" stroke-width="0.08">=52.92°C</text>
<text x="91.8" y="500.6" text-anchor="middle" font-size="10" fill="#111" stroke="#111" stroke-width="0.12"><tspan font-weight="bold">(g)</tspan> Cu baseplate</text>
</g>
</svg></body></html>
